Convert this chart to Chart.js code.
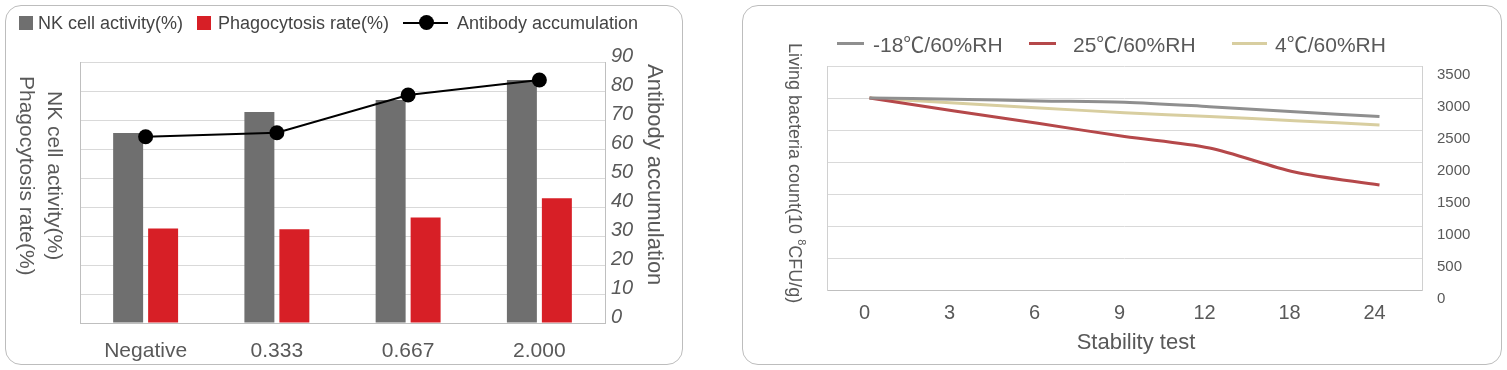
<!DOCTYPE html>
<html>
<head>
<meta charset="utf-8">
<script src="https://cdn.jsdelivr.net/npm/chart.js@4.4.1/dist/chart.umd.min.js"></script>
<style>
  html, body { margin: 0; padding: 0; background: #fff; }
  body { width: 1507px; height: 370px; position: relative; overflow: hidden; font-family: 'Liberation Sans', Arial, sans-serif; color: #595959; }
  .panel { position: absolute; top: 5px; height: 360px; box-sizing: border-box; border: 1.5px solid #bdbdbd; border-radius: 16px; }
  canvas { position: absolute; top: 0; }
  .abs { position: absolute; white-space: nowrap; }
  .vtitle { position: absolute; writing-mode: vertical-rl; text-align: center; white-space: nowrap; }
  .deg { font-family: 'Noto Sans CJK SC', sans-serif; }
  .box { position: absolute; width: 14px; height: 14px; }
  .seg { position: absolute; height: 3px; }
</style>
</head>
<body>
<div class="panel" style="left:5px; width:678px;"></div>
<div class="panel" style="left:742px; width:760px;"></div>

<canvas id="immuneChart" width="700" height="370" style="left:0;"></canvas>
<canvas id="stabilityChart" width="807" height="370" style="left:700px;"></canvas>

<!-- legend, left chart -->
<div class="box" style="left:19px; top:16px; background:#6f6f6f;"></div>
<div class="abs" style="left:38px; top:12px; font-size:18px; line-height:22px; color:#444;">NK cell activity(%)</div>
<div class="box" style="left:197px; top:16px; background:#d71f26;"></div>
<div class="abs" style="left:218px; top:12px; font-size:18px; line-height:22px; color:#444;">Phagocytosis rate(%)</div>
<div class="abs" style="left:403px; top:22px; width:45px; height:2px; background:#000;"></div>
<div class="abs" style="left:419px; top:15px; width:15px; height:15px; border-radius:50%; background:#000;"></div>
<div class="abs" style="left:457px; top:12px; font-size:18px; line-height:22px; color:#444;">Antibody accumulation</div>

<!-- axis titles, left chart -->
<div class="vtitle" style="left:13px; top:26px; width:56px; height:300px; font-size:21px; line-height:28px;">NK cell activity(%)<br>Phagocytosis rate(%)</div>
<div class="vtitle" style="left:641px; top:25px; width:28px; height:300px; font-size:22px; line-height:28px;">Antibody accumulation</div>

<!-- legend, right chart -->
<div class="seg" style="left:837px; top:42px; width:27px; background:#8f8f8f;"></div>
<div class="abs" style="left:873px; top:30px; font-size:21px; line-height:26px;">-18<span class="deg">℃</span>/60%RH</div>
<div class="seg" style="left:1029px; top:42px; width:27px; background:#b5484a;"></div>
<div class="abs" style="left:1073px; top:30px; font-size:21px; line-height:26px;">25<span class="deg">℃</span>/60%RH</div>
<div class="seg" style="left:1232px; top:42px; width:35px; background:#d8cea0;"></div>
<div class="abs" style="left:1275px; top:30px; font-size:21px; line-height:26px;">4<span class="deg">℃</span>/60%RH</div>

<!-- axis titles, right chart -->
<div class="vtitle" style="left:790px; top:22px; width:24px; height:302px; font-size:18px; line-height:24px;">Living bacteria count(10 <sup style="font-size:11px;">8</sup>CFU/g)</div>
<div class="abs" style="left:1136px; top:328px; transform:translateX(-50%); font-size:22px; line-height:28px;">Stability test</div>

<script>
Chart.defaults.font.family = "'Liberation Sans', Arial, sans-serif";
Chart.defaults.color = '#595959';

// immune response chart
const doseLabels = ['Negative', '0.333', '0.667', '2.000'];
const nkActivity = [65.5, 72.8, 76.9, 83.8];
const phagocytosisRate = [32.6, 32.3, 36.4, 43.0];
const antibodyAccumulation = [64.2, 65.6, 78.6, 83.8];

// stability chart
const storageMonths = ['0', '3', '6', '9', '12', '18', '24'];
const countMinus18 = [3000, 2980, 2955, 2935, 2865, 2785, 2710];
const count25 = [3000, 2797, 2600, 2398, 2219, 1844, 1640];
const count4 = [3000, 2920, 2845, 2770, 2710, 2645, 2580];

const GRID = '#d9d9d9';
const FRAME = '#bfbfbf';

new Chart(document.getElementById('immuneChart').getContext('2d'), {
  type: 'bar',
  data: {
    labels: doseLabels,
    datasets: [
      { type: 'line', label: 'Antibody accumulation', data: antibodyAccumulation, yAxisID: 'y1', borderColor: '#000', borderWidth: 2,
        pointRadius: 7.5, pointBackgroundColor: '#000', pointBorderWidth: 0, order: 0 },
      { label: 'NK cell activity(%)', data: nkActivity, backgroundColor: '#6f6f6f', yAxisID: 'y',
        categoryPercentage: 0.533, barPercentage: 0.857, order: 1 },
      { label: 'Phagocytosis rate(%)', data: phagocytosisRate, backgroundColor: '#d71f26', yAxisID: 'y',
        categoryPercentage: 0.533, barPercentage: 0.857, order: 1 }
    ]
  },
  options: {
    responsive: false,
    animation: false,
    layout: { padding: { left: 80, top: 62, right: 35, bottom: 0 } },
    plugins: { legend: { display: false }, tooltip: { enabled: false } },
    scales: {
      x: {
        grid: { display: false },
        border: { color: FRAME },
        ticks: { font: { size: 21 }, padding: 8 },
        afterFit: (s) => { s.height = 47; }
      },
      y: {
        min: 0, max: 90,
        ticks: { stepSize: 10, display: false },
        grid: { color: GRID, drawTicks: false },
        border: { color: FRAME },
        afterFit: (s) => { s.width = 0; }
      },
      y1: {
        position: 'right',
        min: 0, max: 90,
        ticks: { stepSize: 10, font: { size: 20, style: 'italic' }, padding: 6, labelOffset: -6 },
        grid: { drawOnChartArea: false, drawTicks: false },
        border: { color: FRAME },
        afterFit: (s) => { s.width = 60; }
      }
    }
  }
});

new Chart(document.getElementById('stabilityChart').getContext('2d'), {
  type: 'line',
  data: {
    labels: storageMonths,
    datasets: [
      { label: '-18℃/60%RH', data: countMinus18, borderColor: '#8f8f8f', borderWidth: 3, pointRadius: 0, tension: 0.3, yAxisID: 'y' },
      { label: '25℃/60%RH', data: count25, borderColor: '#b5484a', borderWidth: 3, pointRadius: 0, tension: 0.3, yAxisID: 'y' },
      { label: '4℃/60%RH', data: count4, borderColor: '#d8cea0', borderWidth: 3, pointRadius: 0, tension: 0.3, yAxisID: 'y' }
    ]
  },
  options: {
    responsive: false,
    animation: false,
    layout: { padding: { left: 127, top: 66, right: 25, bottom: 0 } },
    plugins: { legend: { display: false }, tooltip: { enabled: false } },
    scales: {
      x: {
        offset: true,
        grid: { display: false },
        border: { color: FRAME },
        ticks: { font: { size: 20 }, padding: 3, labelOffset: -5 },
        afterFit: (s) => { s.height = 80; }
      },
      yl: {
        position: 'left',
        min: 0, max: 3500,
        ticks: { display: false },
        grid: { display: false },
        border: { color: '#d0d0d0' },
        afterFit: (s) => { s.width = 0; }
      },
      y: {
        position: 'right',
        min: 0, max: 3500,
        ticks: { stepSize: 500, font: { size: 15 }, padding: 15, labelOffset: 9, callback: (v) => String(v) },
        grid: { color: GRID, drawTicks: false },
        border: { color: '#d0d0d0' },
        afterFit: (s) => { s.width = 60; }
      }
    }
  }
});
</script>
</body>
</html>
